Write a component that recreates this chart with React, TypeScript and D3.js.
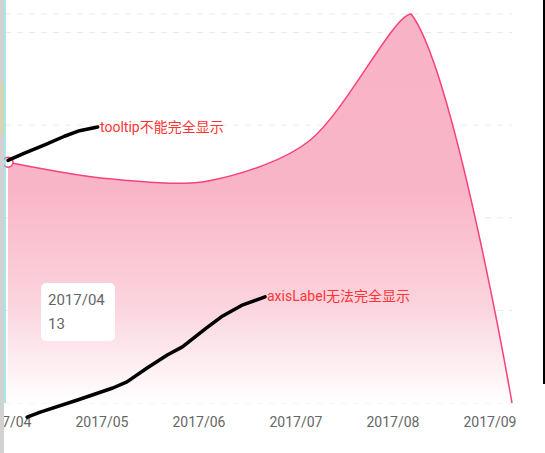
import * as d3 from "d3";

const SvgWidth = 545;
const SvgHeight = 453;

// chart data
const months = ["2017/04", "2017/05", "2017/06", "2017/07", "2017/08", "2017/09"];
const values = [13, 12.1, 12.0, 14.2, 21, 0];
const yTicks = [0, 5, 10, 15, 20, 21];

// hand drawn annotation strokes, in data units (month index, value)
const tooltipStroke = [[0, 13.1], [0.17, 13.5], [0.37, 13.95], [0.56, 14.4], [0.71, 14.7], [0.89, 14.9]];
const axisStroke = [
    [0.19, -0.76], [0.32, -0.49], [0.69, 0.16], [1.04, 0.81], [1.18, 1.14], [1.38, 1.89],
    [1.58, 2.59], [1.73, 3.03], [1.97, 4.05], [2.13, 4.7], [2.33, 5.3], [2.55, 5.73],
];
const tooltipNote = "tooltip不能完全显示";
const axisNote = "axisLabel无法完全显示";
const tooltipLines = ["2017/04", "13"];

const lineColor = "#f5437a";
const noteColor = "#ff3535";
const labelColor = "#666";
const font = "Roboto, 'Noto Sans CJK SC', sans-serif";

// echarts style bezier smoothing, control points kept inside the points' bbox
function smoothCurve(smooth) {
    return function(context) {
        let line = NaN;
        let pts = [];
        return {
            areaStart() { line = 0; },
            areaEnd() { line = NaN; },
            lineStart() { pts = []; },
            point(x, y) { pts.push([+x, +y]); },
            lineEnd() {
                const n = pts.length;
                if (n) {
                    line ? context.lineTo(pts[0][0], pts[0][1]) : context.moveTo(pts[0][0], pts[0][1]);
                    const min = [d3.min(pts, p => p[0]), d3.min(pts, p => p[1])];
                    const max = [d3.max(pts, p => p[0]), d3.max(pts, p => p[1])];
                    const clamp = (p) => [Math.min(Math.max(p[0], min[0]), max[0]), Math.min(Math.max(p[1], min[1]), max[1])];
                    const cps = [pts[0]];
                    for (let i = 1; i < n - 1; i++) {
                        const prev = pts[i - 1], cur = pts[i], next = pts[i + 1];
                        const vx = (next[0] - prev[0]) * smooth;
                        const vy = (next[1] - prev[1]) * smooth;
                        let d0 = Math.hypot(cur[0] - prev[0], cur[1] - prev[1]);
                        let d1 = Math.hypot(cur[0] - next[0], cur[1] - next[1]);
                        const sum = d0 + d1;
                        if (sum !== 0) { d0 /= sum; d1 /= sum; }
                        cps.push(clamp([cur[0] - vx * d0, cur[1] - vy * d0]));
                        cps.push(clamp([cur[0] + vx * d1, cur[1] + vy * d1]));
                    }
                    cps.push(pts[n - 1]);
                    for (let i = 0; i < n - 1; i++) {
                        const a = cps[2 * i], b = cps[2 * i + 1], p = pts[i + 1];
                        context.bezierCurveTo(a[0], a[1], b[0], b[1], p[0], p[1]);
                    }
                }
                if (line || (line !== 0 && n === 1)) context.closePath();
                line = 1 - line;
            },
        };
    };
}

function App() {
    const xScale = d3.scalePoint().domain(months).range([8, 512]);
    const labelScale = d3.scalePoint().domain(months).range([5, 490]);
    const yScale = d3.scaleLinear().domain([0, d3.max(values)]).range([403, 14]);
    // month index -> pixel for the annotation strokes
    const xIndex = d3.scaleLinear().domain([0, months.length - 1]).range(xScale.range());

    const data = months.map((m, i) => ({month: m, value: values[i]}));

    const area = d3.area()
        // @ts-ignore
        .x(d => xScale(d.month))
        .y0(yScale(0))
        // @ts-ignore
        .y1(d => yScale(d.value))
        .curve(smoothCurve(0.3));

    const line = d3.line()
        // @ts-ignore
        .x(d => xScale(d.month))
        // @ts-ignore
        .y(d => yScale(d.value))
        .curve(smoothCurve(0.3));

    const stroke = d3.line()
        .x(d => xIndex(d[0]))
        .y(d => yScale(d[1]));

    const gridLeft = 5;
    const gridRight = xScale(months[months.length - 1]);

    return (
        <svg width={SvgWidth} height={SvgHeight} style={{position: "absolute", left: 0, top: 0, background: "#fff"}}>
            <defs>
                <linearGradient id="areaFill" x1="0" y1="0" x2="0" y2="1">
                    <stop offset="0" stopColor="#f9b3c7" />
                    <stop offset="0.45" stopColor="#f9b5c8" />
                    <stop offset="0.75" stopColor="#fbd4de" />
                    <stop offset="1" stopColor="#ffffff" />
                </linearGradient>
            </defs>

            {yTicks.map(t => (
                <line key={t} x1={gridLeft} x2={gridRight} y1={yScale(t)} y2={yScale(t)}
                      stroke="#e9ebf1" strokeWidth={1} strokeDasharray="6,6" />
            ))}

            {/* @ts-ignore */}
            <path d={area(data)} fill="url(#areaFill)" />
            {/* @ts-ignore */}
            <path d={line(data)} fill="none" stroke={lineColor} strokeWidth={1.5} />
            <circle cx={xScale(months[0])} cy={yScale(values[0])} r={5} fill="#fff" stroke={lineColor} strokeWidth={1.5} />

            {months.map(m => (
                <text key={m} x={labelScale(m)} y={427} textAnchor="middle" fontSize={14}
                      fontFamily={font} fill={labelColor}>{m}</text>
            ))}

            <g>
                <rect x={41} y={283} width={74} height={58} rx={5} fill="#fff" />
                {tooltipLines.map((t, i) => (
                    <text key={i} x={48} y={305 + i * 24} fontSize={15} fontFamily={font} fill={labelColor}>{t}</text>
                ))}
            </g>

            {/* @ts-ignore */}
            <path d={stroke(tooltipStroke)} fill="none" stroke="#000" strokeWidth={3.5} strokeLinecap="round" strokeLinejoin="round" />
            {/* @ts-ignore */}
            <path d={stroke(axisStroke)} fill="none" stroke="#000" strokeWidth={3.5} strokeLinecap="round" strokeLinejoin="round" />
            <text x={100} y={132} fontSize={14} fontFamily={font} fill={noteColor}>{tooltipNote}</text>
            <text x={267} y={301} fontSize={14} fontFamily={font} fill={noteColor}>{axisNote}</text>

            {/* window edges from the screenshot */}
            <rect x={0} y={0} width={4} height={SvgHeight} fill="#d2d2d2" />
            <rect x={0} y={82} width={4} height={53} fill="#d8d4b4" />
            <line x1={5} x2={5} y1={0} y2={403} stroke="#6fd8d8" strokeWidth={1.2} />
            <rect x={543} y={0} width={2} height={384} fill="#000" />
        </svg>
    );
}

export default App;
